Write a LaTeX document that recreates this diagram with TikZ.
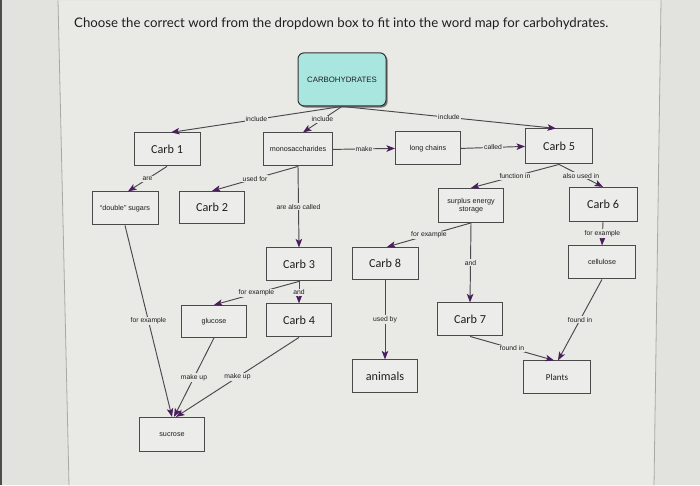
\documentclass[tikz,border=0pt]{standalone}
\usepackage{fontspec}
\setmainfont{Liberation Sans}
\newfontfamily\titlefont{Lato}
\newfontfamily\carbfont{Carlito}
\usetikzlibrary{arrows.meta,shadows}
\definecolor{outerc}{HTML}{E2E2DE}
\definecolor{panelc}{HTML}{E9E9E6}
\definecolor{panelline}{HTML}{A8A8A6}
\definecolor{boxline}{HTML}{4A4A4A}
\definecolor{boxfill}{HTML}{ECECEA}
\definecolor{linec}{HTML}{4A4A4E}
\definecolor{arrowc}{HTML}{4A1D5C}
\definecolor{tealc}{HTML}{A9E6E0}
\definecolor{textc}{HTML}{1E1E1E}
\tikzset{
  box/.style={draw=boxline, line width=1pt, fill=boxfill, minimum width=65pt, minimum height=33pt,
    inner sep=1pt, align=center, text=textc, font=\fontsize{7.2}{8.2}\selectfont},
  carb/.style={box, font=\carbfont\fontsize{12.2}{14}\selectfont},
  arr/.style={draw=linec, line width=0.95pt, -{Stealth[length=8.5pt,width=6.5pt,inset=2pt,color=arrowc]}},
  lab/.style={fill=panelc, inner sep=1pt, text=textc, font=\fontsize{6.8}{7.8}\selectfont, pos=0.5}
}
\begin{document}
\begin{tikzpicture}[x=1pt,y=-1pt]
\fill[outerc] (0,0) rectangle (700,485);
\fill[panelc] (58,0) -- (661,0) -- (654,485) -- (69,485) -- cycle;
\draw[panelline, line width=0.8pt] (58,0) -- (69,485);
\draw[panelline, line width=0.8pt] (661,0) -- (654,485);
\fill[gray!60!black] (0,0) rectangle (2,485);
\useasboundingbox (0,0) rectangle (700,485);

\node[anchor=base west, text=textc, font=\titlefont\fontsize{13.2}{16}\selectfont, inner sep=0pt] (title) at (74,27)
  {Choose the correct word from the dropdown box to fit into the word map for carbohydrates.};

\node[draw=black!80, line width=1pt, fill=tealc, rounded corners=6pt, minimum width=88pt, minimum height=53pt,
  text=textc, font=\fontsize{7.8}{9}\selectfont,
  drop shadow={shadow xshift=1.6pt, shadow yshift=-1.6pt, fill=black!55, opacity=1}] (carbo) at (342,79) {CARBOHYDRATES};

\node[carb, minimum width=66pt] (carb1) at (167,149) {Carb 1};
\node[box, minimum width=69pt] (mono) at (298,149) {monosaccharides};
\node[box] (long) at (428,148) {long chains};
\node[carb, minimum width=67pt, minimum height=35pt] (carb5) at (559,146) {Carb 5};
\node[box, minimum width=66pt] (double) at (125,208) {“double” sugars};
\node[carb, minimum height=32pt] (carb2) at (212,207) {Carb 2};
\node[carb] (carb3) at (299,264) {Carb 3};
\node[carb, minimum width=66pt, minimum height=32pt] (carb8) at (385,263) {Carb 8};
\node[box, minimum height=34pt] (surplus) at (471,205) {surplus energy\\storage};
\node[carb, minimum width=68pt, minimum height=34pt] (carb6) at (603,204) {Carb 6};
\node[box, minimum width=67pt] (cellulose) at (602,262) {cellulose};
\node[box, minimum height=32pt] (glucose) at (214,321) {glucose};
\node[carb] (carb4) at (299,320) {Carb 4};
\node[carb] (carb7) at (470,319) {Carb 7};
\node[carb] (animals) at (385,376) {animals};
\node[box, minimum width=67pt, font=\carbfont\fontsize{9}{10}\selectfont] (plants) at (557,377) {Plants};
\node[box, minimum height=34pt] (sucrose) at (172,434) {sucrose};

\draw[arr] (carbo.south) -- node[lab]{include} ([xshift=4pt]carb1.north);
\draw[arr] (carbo.south) -- node[lab]{include} ([xshift=5pt]mono.north);
\draw[arr] (carbo.south) -- node[lab]{include} ([xshift=-3pt]carb5.north);
\draw[arr] (mono.east) -- node[lab]{make} (long.west);
\draw[arr] (long.east) -- node[lab]{called} (carb5.west);
\draw[arr] (carb1.south) -- node[lab]{are} ([xshift=3pt]double.north);
\draw[arr] (mono.south) -- node[lab]{used for} (carb2.north);
\draw[arr] (mono.south) -- node[lab]{are also called} (carb3.north);
\draw[arr] (double.south) -- node[lab]{for example} (sucrose.north);
\draw[arr] (carb3.south) -- node[lab]{for example} (glucose.north);
\draw[arr] (carb3.south) -- node[lab]{and} (carb4.north);
\draw[arr] (glucose.south) -- node[lab]{make up} ([xshift=2pt]sucrose.north);
\draw[arr] (carb4.south) -- node[lab]{make up} ([xshift=4pt]sucrose.north);
\draw[arr] (carb5.south) -- node[lab]{function in} (surplus.north);
\draw[arr] (carb5.south) -- node[lab]{also used in} (carb6.north);
\draw[arr] (surplus.south) -- node[lab]{for example} ([xshift=2pt]carb8.north);
\draw[arr] (surplus.south) -- node[lab]{and} (carb7.north);
\draw[arr] (carb6.south) -- node[lab]{for example} (cellulose.north);
\draw[arr] (carb8.south) -- node[lab]{used by} (animals.north);
\draw[arr] (cellulose.south) -- node[lab]{found in} ([xshift=1pt]plants.north);
\draw[arr] (carb7.south) -- node[lab]{found in} ([xshift=-3pt]plants.north);
\end{tikzpicture}
\end{document}
